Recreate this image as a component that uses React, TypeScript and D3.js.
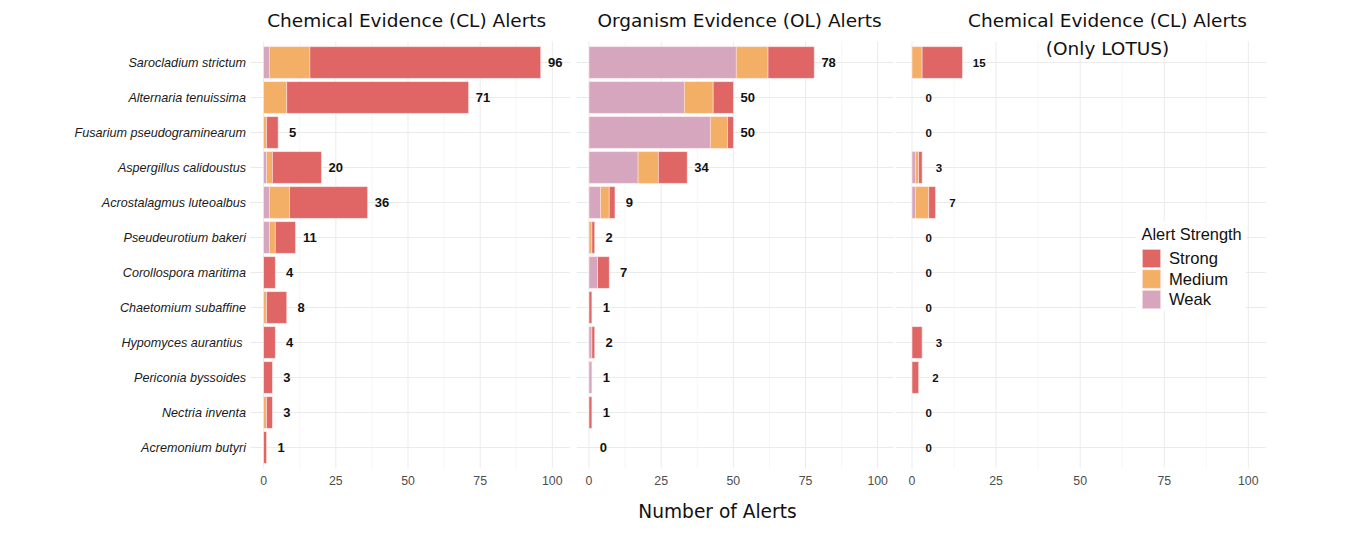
import * as d3 from 'd3';

const species = [
  'Sarocladium strictum',
  'Alternaria tenuissima',
  'Fusarium pseudograminearum',
  'Aspergillus calidoustus',
  'Acrostalagmus luteoalbus',
  'Pseudeurotium bakeri',
  'Corollospora maritima',
  'Chaetomium subaffine',
  'Hypomyces aurantius ',
  'Periconia byssoides',
  'Nectria inventa',
  'Acremonium butyri',
];

const clWeak = [2, 0, 0, 1, 2, 2, 0, 0, 0, 0, 0, 0];
const clMedium = [14, 8, 1, 2, 7, 2, 0, 1, 0, 0, 1, 0];
const clStrong = [80, 63, 4, 17, 27, 7, 4, 7, 4, 3, 2, 1];

const olWeak = [51, 33, 42, 17, 4, 0, 3, 0, 1, 1, 0, 0];
const olMedium = [11, 10, 6, 7, 3, 1, 0, 0, 0, 0, 0, 0];
const olStrong = [16, 7, 2, 10, 2, 1, 4, 1, 1, 0, 1, 0];

const lotusWeak = [0, 0, 0, 1, 1, 0, 0, 0, 0, 0, 0, 0];
const lotusMedium = [3, 0, 0, 1, 4, 0, 0, 0, 0, 0, 0, 0];
const lotusStrong = [12, 0, 0, 1, 2, 0, 0, 0, 3, 2, 0, 0];

const strengths = ['Weak', 'Medium', 'Strong'];
const legendOrder = ['Strong', 'Medium', 'Weak'];
const COLORS: Record<string, string> = { Strong: '#e06666', Medium: '#f4af67', Weak: '#d5a6bd' };
const xTicks = [0, 25, 50, 75, 100];
const xMinor = [12.5, 37.5, 62.5, 87.5];

const SANS = '"Liberation Sans", Arial, sans-serif';
const TITLE_FONT = '"DejaVu Sans", sans-serif';

const panels = [
  { title: ['Chemical Evidence (CL) Alerts'], tx: 406.7, x0: 250, x1: 570, r0: 263.7, r1: 552.3, w: clWeak, m: clMedium, s: clStrong, fs: 13 },
  { title: ['Organism Evidence (OL) Alerts'], tx: 739.5, x0: 577, x1: 894, r0: 589, r1: 877.7, w: olWeak, m: olMedium, s: olStrong, fs: 13 },
  { title: ['Chemical Evidence (CL) Alerts', '(Only LOTUS)'], tx: 1107.5, x0: 896, x1: 1266, r0: 912, r1: 1248.3, w: lotusWeak, m: lotusMedium, s: lotusStrong, fs: 11.5 },
];

const y = d3.scaleBand<string>().domain(species).range([41.5, 468.5]).paddingInner(0.1).paddingOuter(0.15);

function Panel({ p }: { p: (typeof panels)[number] }) {
  const x = d3.scaleLinear().domain([0, 100]).range([p.r0, p.r1]);
  const rows = species.map((sp, i) => ({ sp, Weak: p.w[i], Medium: p.m[i], Strong: p.s[i] }));
  const stacked = d3.stack<any>().keys(strengths)(rows);
  const top = 41.5, bottom = 468.5;
  return (
    <g>
      {xMinor.map((t) => (
        <line key={'mn' + t} x1={x(t)} x2={x(t)} y1={top} y2={bottom} stroke="#f4f4f4" strokeWidth={0.8} />
      ))}
      {xTicks.map((t) => (
        <line key={'mj' + t} x1={x(t)} x2={x(t)} y1={top} y2={bottom} stroke="#ebebeb" strokeWidth={1} />
      ))}
      {species.map((sp) => (
        <line key={'h' + sp} x1={p.x0} x2={p.x1} y1={y(sp)! + y.bandwidth() / 2} y2={y(sp)! + y.bandwidth() / 2} stroke="#ebebeb" strokeWidth={1.1} />
      ))}
      {stacked.map((layer) => (
        <g key={layer.key} fill={COLORS[layer.key]}>
          {layer.map((d, i) =>
            d[1] - d[0] > 0 ? (
              <rect key={i} x={x(d[0])} y={y(species[i])} width={x(d[1]) - x(d[0])} height={y.bandwidth()}
                stroke="#fbe3e3" strokeWidth={0.6} />
            ) : null
          )}
        </g>
      ))}
      {rows.map((r) => {
        const total = r.Weak + r.Medium + r.Strong;
        return (
          <text key={'v' + r.sp} x={x(total + 5)} y={y(r.sp)! + y.bandwidth() / 2} dy="0.35em" textAnchor="middle"
            fontFamily={SANS} fontWeight="bold" fontSize={p.fs} fill="#111">
            {total}
          </text>
        );
      })}
      {xTicks.map((t) => (
        <text key={'tl' + t} x={x(t)} y={485} textAnchor="middle" fontFamily={SANS} fontSize={12.3} fill="#4d4d4d">
          {t}
        </text>
      ))}
      {p.title.map((line, i) => (
        <text key={'t' + i} x={p.tx} y={27 + i * 28} textAnchor="middle" fontFamily={TITLE_FONT} fontSize={18.5} fill="#111">
          {line}
        </text>
      ))}
    </g>
  );
}

export default function App() {
  return (
    <svg width={1365} height={559} style={{ position: 'absolute', left: 0, top: 0, background: '#fff' }}>
      <rect width={1365} height={559} fill="#fff" />
      {panels.map((p, i) => (
        <Panel key={i} p={p} />
      ))}
      {species.map((sp) => (
        <text key={sp} x={246} y={y(sp)! + y.bandwidth() / 2} dy="0.35em" textAnchor="end" fontFamily={SANS}
          fontStyle="italic" fontSize={12.6} fill="#1a1a1a" style={{ whiteSpace: 'pre' }}>
          {sp}
        </text>
      ))}
      <text x={717.5} y={518} textAnchor="middle" fontFamily={TITLE_FONT} fontSize={18.6} fill="#111">
        Number of Alerts
      </text>
      <g>
        <rect x={1136} y={221} width={110} height={89} fill="#fff" />
        <text x={1141.5} y={240} fontFamily={SANS} fontSize={16.4} fill="#111">
          Alert Strength
        </text>
        {legendOrder.map((k, i) => (
          <g key={k}>
            <rect x={1142.3} y={249.3 + i * 20.5} width={18.4} height={18.4} fill={COLORS[k]} stroke="#fbe3e3" strokeWidth={0.6} />
            <text x={1169} y={258.5 + i * 20.5} dy="0.36em" fontFamily={SANS} fontSize={16.6} fill="#111">
              {k}
            </text>
          </g>
        ))}
      </g>
    </svg>
  );
}
